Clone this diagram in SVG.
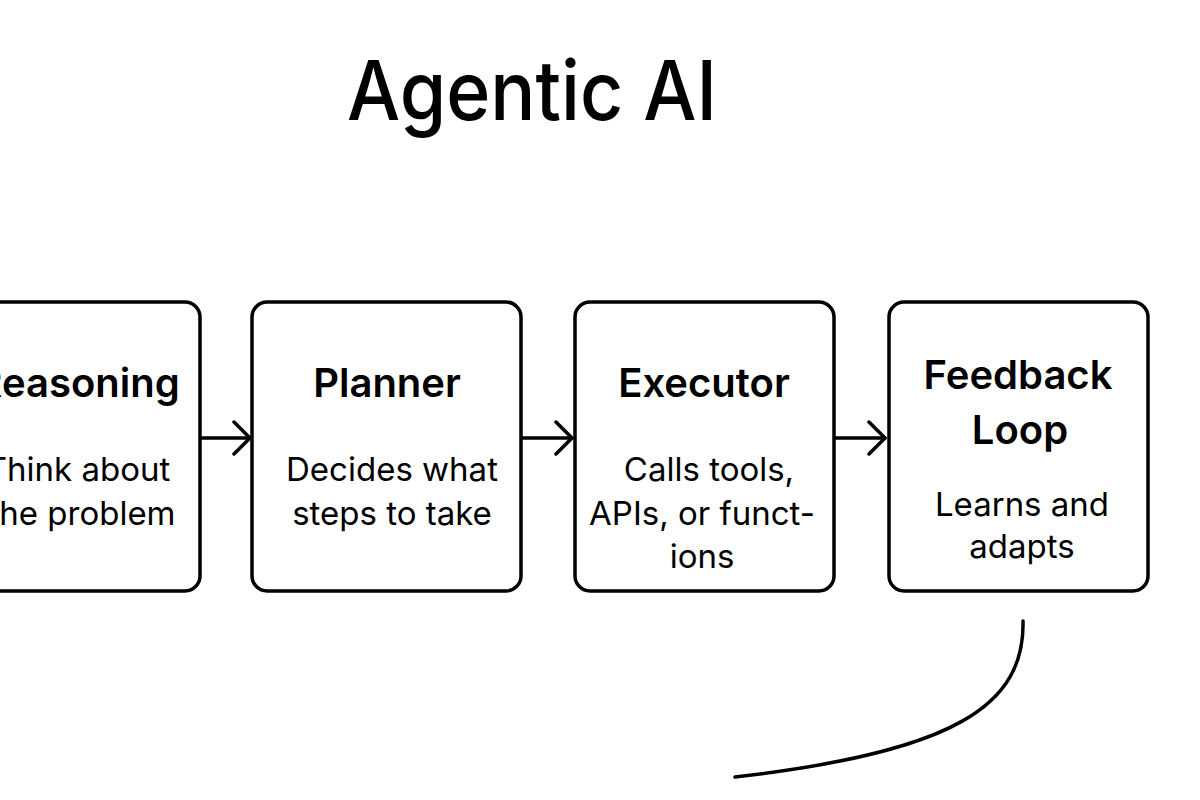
<svg xmlns="http://www.w3.org/2000/svg" width="1200" height="800" viewBox="0 0 1200 800">
  <defs>
    <style>
      .box { fill: #ffffff; stroke: #000000; stroke-width: 3.5; }
      .title { font-family: Inter, "Liberation Sans", sans-serif; font-weight: 600; font-size: 40px; fill: #000; text-anchor: middle; }
      .sub { font-family: Inter, "Liberation Sans", sans-serif; font-weight: 400; font-size: 33px; fill: #000; text-anchor: middle; }
      .main { font-family: Inter, "Liberation Sans", sans-serif; font-weight: 500; font-size: 82px; fill: #000; text-anchor: middle; }
      .conn { fill: none; stroke: #000; stroke-width: 3.5; stroke-linecap: round; stroke-linejoin: round; }
    </style>
    <marker id="chev" viewBox="0 0 20 36" refX="18" refY="18" markerWidth="20" markerHeight="36" markerUnits="userSpaceOnUse" orient="auto">
      <path d="M2,2 L18,18 L2,34" fill="none" stroke="#000" stroke-width="3.5" stroke-linecap="round" stroke-linejoin="round"/>
    </marker>
  </defs>
  <rect x="0" y="0" width="1200" height="800" fill="#ffffff"/>

  <text class="main" x="532" y="120" textLength="370" lengthAdjust="spacingAndGlyphs">Agentic AI</text>

  <g id="connectors">
    <line class="conn" x1="200" y1="438" x2="250" y2="438" marker-end="url(#chev)"/>
    <line class="conn" x1="521" y1="438" x2="572" y2="438" marker-end="url(#chev)"/>
    <line class="conn" x1="834" y1="438" x2="885" y2="438" marker-end="url(#chev)"/>
    <path class="conn" d="M1023,621 C1025,705 955,752 735,777"/>
  </g>

  <g id="reasoning">
    <rect class="box" x="-62" y="302" width="262" height="289" rx="15"/>
    <text class="title" x="78" y="397">Reasoning</text>
    <text class="sub" x="78" y="481">Think about</text>
    <text class="sub" x="82" y="525">the problem</text>
  </g>

  <g id="planner">
    <rect class="box" x="252" y="302" width="269" height="289" rx="15"/>
    <text class="title" x="387" y="397">Planner</text>
    <text class="sub" x="392" y="481">Decides what</text>
    <text class="sub" x="392" y="525">steps to take</text>
  </g>

  <g id="executor">
    <rect class="box" x="575" y="302" width="259" height="289" rx="15"/>
    <text class="title" x="704" y="397">Executor</text>
    <text class="sub" x="709" y="481">Calls tools,</text>
    <text class="sub" x="702" y="525">APIs, or funct-</text>
    <text class="sub" x="702" y="568">ions</text>
  </g>

  <g id="feedback">
    <rect class="box" x="889" y="302" width="259" height="289" rx="15"/>
    <text class="title" x="1018" y="389">Feedback</text>
    <text class="title" x="1020" y="444">Loop</text>
    <text class="sub" x="1022" y="516">Learns and</text>
    <text class="sub" x="1022" y="558">adapts</text>
  </g>
</svg>
